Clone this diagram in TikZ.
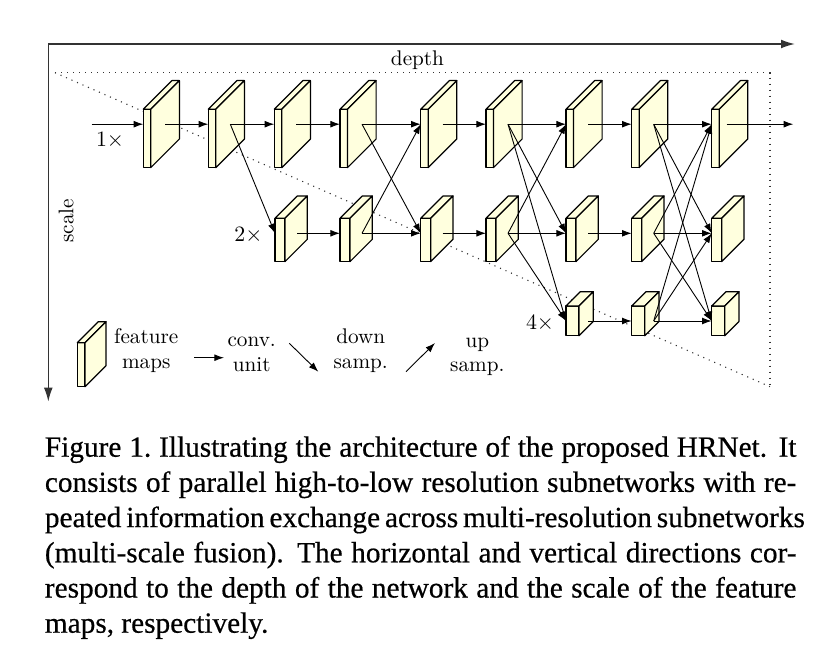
\documentclass[tikz,border=0pt]{standalone}
\usepackage{fontspec}
\newfontfamily\capfont[FakeBold=0.5]{Liberation Serif}
\usetikzlibrary{arrows.meta}
\definecolor{fmfill}{RGB}{255,255,222}
\tikzset{
 fm/.style={draw=black, fill=fmfill, line width=0.6pt, line join=round},
 conn/.style={-{Latex[length=4.8pt,width=3.4pt]}, line width=0.45pt},
 axis/.style={-{Latex[length=7pt,width=4.4pt]}, line width=0.75pt, draw=black!80},
 dots/.style={line width=0.55pt, dash pattern=on 0.55pt off 2.45pt, draw=black!80},
 lbl/.style={font=\fontsize{10.6}{12.5}\selectfont, inner sep=0pt},
 capline/.style={font=\capfont\fontsize{14.65}{17.6}\selectfont, inner sep=0pt, anchor=base west},
}
% name, front-left x, arrow y, width, height, depth
\newcommand{\fmap}[6]{%
 \draw[fm] (#2,#3-15) rectangle ++(#4,#5);
 \draw[fm] (#2,#3-15) -- ++(#6,-#6) -- ++(#4,0) -- ++(-#6,#6) -- cycle;
 \draw[fm] (#2+#4,#3-15) -- ++(#6,-#6) -- ++(0,#5) -- ++(-#6,#6) -- cycle;
 \coordinate (#1) at (#2+22,#3);
 \coordinate (#1i) at (#2,#3);
}
\begin{document}
\begin{tikzpicture}[x=0.5pt,y=-0.5pt]
\useasboundingbox (0,0) rectangle (828,657);
% axes
\coordinate (orig) at (48.3,44);
\coordinate (depthend) at (795,44);
\coordinate (scaleend) at (48.3,401.7);
\draw[axis] (orig) -- (depthend);
\draw[axis] (orig) -- (scaleend);
\node[lbl, anchor=base] (depth) at (417.5,66) {depth};
\node[lbl, anchor=base, rotate=90] (scale) at (73.3,220.8) {scale};
% dotted triangle
\coordinate (tA) at (55,72.7);
\coordinate (tB) at (770,72.7);
\coordinate (tC) at (770,386.7);
\draw[dots] (tA) -- (tB) -- (tC);
\draw[dots] (tA) -- (tC);
% row 1
\fmap{r1c1}{143.3}{124.2}{7.5}{58.4}{28.6}
\fmap{r1c2}{208.3}{124.2}{7.5}{58.4}{28.6}
\fmap{r1c3}{274.3}{124.2}{7.5}{58.4}{28.6}
\fmap{r1c4}{340}{124.2}{7.5}{58.4}{28.6}
\fmap{r1c5}{420.7}{124.2}{7.5}{58.4}{28.6}
\fmap{r1c6}{486}{124.2}{7.5}{58.4}{28.6}
\fmap{r1c7}{566}{124.2}{7.5}{58.4}{28.6}
\fmap{r1c8}{631.7}{124.2}{7.5}{58.4}{28.6}
\fmap{r1c9}{711.7}{124.2}{7.5}{58.4}{28.6}
% row 2
\fmap{r2c3}{275}{233.3}{10}{43.3}{22.3}
\fmap{r2c4}{340}{233.3}{10}{43.3}{22.3}
\fmap{r2c5}{420.7}{233.3}{10}{43.3}{22.3}
\fmap{r2c6}{486}{233.3}{10}{43.3}{22.3}
\fmap{r2c7}{566}{233.3}{10}{43.3}{22.3}
\fmap{r2c8}{631.7}{233.3}{10}{43.3}{22.3}
\fmap{r2c9}{711.7}{233.3}{10}{43.3}{22.3}
% row 3
\fmap{r3c7}{566}{321}{13}{29.7}{14.3}
\fmap{r3c8}{631.7}{321}{13}{29.7}{14.3}
\fmap{r3c9}{711.7}{321}{13}{29.7}{14.3}
% scale labels
\node[lbl, anchor=base] (s1) at (110,147) {$1\times$};
\node[lbl, anchor=base] (s2) at (248.3,241.5) {$2\times$};
\node[lbl, anchor=base] (s4) at (540,329) {$4\times$};
% connectors
\coordinate (inp) at (91.7,124.2);
\coordinate (outp) at (793.3,124.2);
\draw[conn] (inp) -- (r1c1i);
\draw[conn] (r1c1) -- (r1c2i);
\draw[conn] (r1c2) -- (r1c3i);
\draw[conn] (r1c3) -- (r1c4i);
\draw[conn] (r1c4) -- (r1c5i);
\draw[conn] (r1c5) -- (r1c6i);
\draw[conn] (r1c6) -- (r1c7i);
\draw[conn] (r1c7) -- (r1c8i);
\draw[conn] (r1c8) -- (r1c9i);
\draw[conn] ([xshift=-3.5pt]r1c9) -- (outp);
\draw[conn] (r1c2) -- (r2c3i);
\draw[conn] (r2c3) -- (r2c4i);
\draw[conn] (r2c4) -- (r2c5i);
\draw[conn] (r2c5) -- (r2c6i);
\draw[conn] (r2c6) -- (r2c7i);
\draw[conn] (r2c7) -- (r2c8i);
\draw[conn] (r2c8) -- (r2c9i);
\draw[conn] (r1c4) -- (r2c5i);
\draw[conn] (r2c4) -- (r1c5i);
\draw[conn] (r1c6) -- (r2c7i);
\draw[conn] (r1c6) -- (r3c7i);
\draw[conn] (r2c6) -- (r1c7i);
\draw[conn] (r2c6) -- (r3c7i);
\draw[conn] (r3c7) -- (r3c8i);
\draw[conn] (r1c8) -- (r2c9i);
\draw[conn] (r1c8) -- (r3c9i);
\draw[conn] (r2c8) -- (r1c9i);
\draw[conn] (r2c8) -- (r3c9i);
\draw[conn] (r3c8) -- (r1c9i);
\draw[conn] (r3c8) -- (r2c9i);
\draw[conn] (r3c8) -- (r3c9i);
% legend
\fmap{leg}{77.3}{357.7}{7.7}{44}{21}
\node[lbl, anchor=base] (lf1) at (146.2,343.3) {feature};
\node[lbl, anchor=base] (lf2) at (146.2,368.3) {maps};
\coordinate (lca) at (194,357.7);
\coordinate (lcb) at (224,357.7);
\draw[conn] (lca) -- (lcb);
\node[lbl, anchor=base] (lc1) at (251.7,346.7) {conv.};
\node[lbl, anchor=base] (lc2) at (251.7,371) {unit};
\coordinate (lda) at (289.3,343.3);
\coordinate (ldb) at (318.3,371.7);
\draw[conn] (lda) -- (ldb);
\node[lbl, anchor=base] (ld1) at (360.7,343.3) {down};
\node[lbl, anchor=base] (ld2) at (360.7,368.3) {samp.};
\coordinate (lua) at (406,371.7);
\coordinate (lub) at (435,343);
\draw[conn] (lua) -- (lub);
\node[lbl, anchor=base] (lu1) at (477.3,347.3) {up};
\node[lbl, anchor=base] (lu2) at (477.3,371) {samp.};
% caption
\node[capline] (cap1) at (44.5,456.7) {\makebox[375.75pt][s]{Figure 1.\ Illustrating the architecture of the proposed HRNet\@.  It}};
\node[capline] (cap2) at (44.5,491.9) {\makebox[375.75pt][s]{consists of parallel high-to-low resolution subnetworks with re-}};
\node[capline] (cap3) at (44.5,527.1) {\makebox[375.75pt][s]{peated information exchange across multi-resolution subnetworks}};
\node[capline] (cap4) at (44.5,562.3) {\makebox[375.75pt][s]{(multi-scale fusion).  The horizontal and vertical directions cor-}};
\node[capline] (cap5) at (44.5,597.5) {\makebox[375.75pt][s]{respond to the depth of the network and the scale of the feature}};
\node[capline] (cap6) at (44.5,632.7) {maps, respectively.};
\end{tikzpicture}
\end{document}
